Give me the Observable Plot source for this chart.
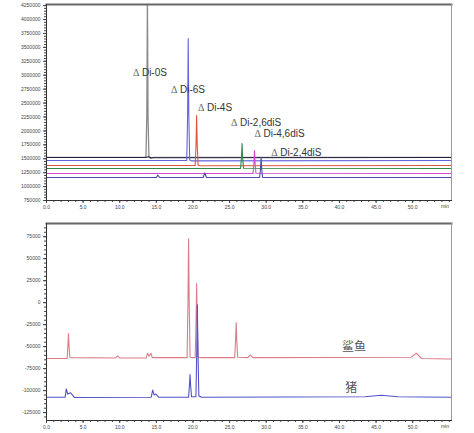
<!DOCTYPE html>
<html>
<head>
<meta charset="utf-8">
<script src="https://cdn.jsdelivr.net/npm/d3@7"></script>
<script src="https://cdn.jsdelivr.net/npm/@observablehq/plot@0.6"></script>
<style>
  body { margin: 0; background: #fff; }
  #chart { width: 474px; height: 433px; position: relative; overflow: hidden; }
  #chart svg { display: block; }
</style>
</head>
<body>
<div id="chart"></div>
<script>
// ---------- tick labels ----------
const xTicks = [0, 5, 10, 15, 20, 25, 30, 35, 40, 45, 50];
const topYTicks = [750000, 1000000, 1250000, 1500000, 1750000, 2000000, 2250000, 2500000,
                   2750000, 3000000, 3250000, 3500000, 3750000, 4000000, 4250000];
const botYTicks = [-125000, -100000, -75000, -50000, -25000, 0, 25000, 50000, 75000];

// ---------- top panel: standards (time in min, signal) ----------
const traceDi0S = [[0, 1525000], [13.58, 1525000], [13.7, 2300000], [13.78, 4400000], [13.86, 2300000], [13.98, 1540000], [14.2, 1505000], [14.6, 1525000], [55.3, 1525000]];
const traceBlank = [[0, 1522000], [13.5, 1522000], [13.9, 1535000], [14.3, 1518000], [55.3, 1522000]];
const traceDi6S = [[0, 1468000], [19.15, 1468000], [19.27, 2300000], [19.35, 3660000], [19.43, 2300000], [19.55, 1478000], [19.8, 1462000], [55.3, 1468000]];
const traceDi4S = [[0, 1379000], [20.3, 1379000], [20.42, 1750000], [20.5, 2277000], [20.58, 1750000], [20.7, 1385000], [21.0, 1374000], [55.3, 1379000]];
const traceDi26diS = [[0, 1325000], [26.5, 1325000], [26.62, 1520000], [26.7, 1774000], [26.78, 1520000], [26.9, 1330000], [55.3, 1325000]];
const traceDi46diS = [[0, 1235000], [28.2, 1235000], [28.32, 1420000], [28.4, 1648000], [28.48, 1420000], [28.6, 1240000], [55.3, 1235000]];
const traceDi24diS = [[0, 1163000], [15.0, 1163000], [15.2, 1205000], [15.45, 1163000], [21.4, 1163000], [21.6, 1245000], [21.85, 1163000],
                      [29.1, 1163000], [29.22, 1320000], [29.3, 1522000], [29.38, 1320000], [29.5, 1166000], [55.3, 1163000]];

const peakNames = ["Di-0S", "Di-6S", "Di-4S", "Di-2,6diS", "Di-4,6diS", "Di-2,4diS"];
const peakLabelT = [11.8, 17.0, 20.7, 25.2, 28.4, 30.7];
const peakLabelV = [3050000, 2730000, 2420000, 2150000, 1950000, 1610000];

// ---------- bottom panel: samples ----------
const sharkTrace = [[0, -63500], [2.82, -63500], [2.93, -48000], [3.0, -35000], [3.07, -48000], [3.18, -62000], [3.6, -62500],
                    [9.4, -63000], [9.7, -60500], [10.0, -63000],
                    [13.6, -63000], [13.8, -57500], [14.0, -61000], [14.25, -57500], [14.45, -62500],
                    [19.2, -62500], [19.32, 5000], [19.4, 72700], [19.48, 5000], [19.6, -62000], [20.0, -62500],
                    [20.3, -62500], [20.42, -20000], [20.5, 21600], [20.58, -20000], [20.7, -62000], [21.2, -62500],
                    [25.7, -62500], [25.82, -42000], [25.9, -22700], [25.98, -42000], [26.1, -62000], [27.5, -62500],
                    [27.8, -59500], [28.2, -62500], [49.8, -62000], [50.5, -57500], [51.2, -63500], [55.3, -64000]];
const pigTrace = [[0, -107500], [2.55, -107500], [2.7, -98000], [2.9, -104000], [3.3, -102500], [3.8, -107800], [14.3, -107500],
                  [14.5, -99500], [14.7, -105000], [14.95, -104000], [15.3, -107500],
                  [19.4, -107500], [19.52, -94000], [19.6, -81800], [19.68, -94000], [19.8, -107000],
                  [20.4, -107000], [20.52, -55000], [20.6, -2300], [20.68, -55000], [20.8, -106000], [21.2, -107500],
                  [43.5, -107000], [45.7, -105300], [48.0, -107000], [55.3, -107500]];
const sampleNames = ["鲨鱼", "猪"];
const sampleLabelT = [42.0, 41.6];
const sampleLabelV = [-50900, -97600];

// ---------- helpers ----------
const W = 474, ML = 46, MR = 23;
const xDomain = [0, 55.3];
const fontFam = "'Liberation Sans', Arial, sans-serif";

function frameAndAxes(yTicks, yMinorStep, yDomain) {
  const yMinor = d3.range(Math.ceil(yDomain[0] / yMinorStep) * yMinorStep, yDomain[1], yMinorStep);
  const xMinor = d3.range(0, 55.01, 1);
  return [
    Plot.axisY(yMinor, {tickSize: 2, tickFormat: () => "", stroke: "#444", label: null}),
    Plot.axisY(yTicks, {tickSize: 3, tickPadding: 3, tickFormat: d => String(d), stroke: "#444", fill: "#444", fontSize: 5, label: null}),
    Plot.axisX(xMinor, {tickSize: 2, tickFormat: () => "", stroke: "#444", label: null}),
    Plot.axisX(xTicks, {tickSize: 3, tickPadding: 2, tickFormat: d => d.toFixed(1), stroke: "#444", fill: "#444", fontSize: 5, label: null}),
    Plot.text(["min"], {x: () => 54.4, frameAnchor: "bottom", dy: 7, text: d => d, fontSize: 5, fill: "#444"}),
    Plot.frame({anchor: "top", stroke: "#666", strokeWidth: 2}),
    Plot.frame({anchor: "right", stroke: "#999", strokeWidth: 1}),
    Plot.frame({anchor: "left", stroke: "#333", strokeWidth: 1}),
    Plot.frame({anchor: "bottom", stroke: "#333", strokeWidth: 1})
  ];
}

const lineOpts = (color, w = 1) => ({x: d => d[0], y: d => d[1], stroke: color, strokeWidth: w, clip: true, curve: "linear"});

// ---------- top panel ----------
const topDomain = [750000, 4270000];
const topLabelData = peakNames.map((n, i) => ({n, t: peakLabelT[i], v: peakLabelV[i]}));
const topPlot = Plot.plot({
  width: W, height: 212,
  marginLeft: ML, marginRight: MR, marginTop: 4, marginBottom: 12,
  style: {fontFamily: fontFam, background: "#fff", overflow: "visible"},
  x: {domain: xDomain, label: null},
  y: {domain: topDomain, label: null},
  marks: [
    Plot.line(traceDi0S, lineOpts("#8a8a8a", 1.3)),
    Plot.line(traceBlank, lineOpts("#23233f", 1.1)),
    Plot.line(traceDi6S, lineOpts("#6464e0", 1.1)),
    Plot.line(traceDi4S, lineOpts("#e0553c", 1.1)),
    Plot.line(traceDi26diS, lineOpts("#2f8a4a", 1.1)),
    Plot.line(traceDi46diS, lineOpts("#d848d8", 1.1)),
    Plot.line(traceDi24diS, lineOpts("#4a4aa8", 1.1)),
    ...frameAndAxes(topYTicks, 50000, topDomain),
    Plot.text(topLabelData, {x: "t", y: "v", text: () => "Δ", textAnchor: "start", fontSize: 10, fill: "#666",
                             fontFamily: "'Liberation Serif', 'DejaVu Serif', serif"}),
    Plot.text(topLabelData, {x: "t", y: "v", text: "n", textAnchor: "start", dx: 9, fontSize: 10, fill: "#333", fontWeight: 500})
  ]
});

// ---------- bottom panel ----------
const botDomain = [-134000, 90000];
const sampleLabelData = sampleNames.map((n, i) => ({n, t: sampleLabelT[i], v: sampleLabelV[i]}));
const botPlot = Plot.plot({
  width: W, height: 221,
  marginLeft: ML, marginRight: MR, marginTop: 11, marginBottom: 13,
  style: {fontFamily: fontFam, background: "#fff", overflow: "visible"},
  x: {domain: xDomain, label: null},
  y: {domain: botDomain, label: null},
  marks: [
    Plot.line(sharkTrace, lineOpts("#dc7c89", 1.1)),
    Plot.line(pigTrace, lineOpts("#5252c8", 1.1)),
    ...frameAndAxes(botYTicks, 5000, botDomain),
    Plot.text(sampleLabelData, {x: "t", y: "v", text: "n", textAnchor: "middle", fontSize: 12, fill: "#555",
                                fontFamily: "'Noto Sans CJK SC', sans-serif"})
  ]
});

const root = document.getElementById("chart");
root.appendChild(topPlot);
root.appendChild(botPlot);
</script>
</body>
</html>
